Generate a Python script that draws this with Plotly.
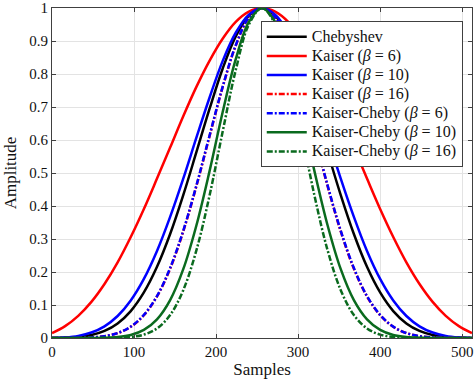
import plotly.graph_objects as go

samples = [0, 16, 32, 48, 64, 80, 96, 112, 128, 144, 160, 176, 192, 208, 224, 240, 256,
           272, 288, 304, 320, 336, 352, 368, 384, 400, 416, 432, 448, 464, 480, 496, 512]

chebyshev = [0.0001, 0.0007, 0.003, 0.0089, 0.0213, 0.0441, 0.0816, 0.138, 0.2156, 0.315, 0.433, 0.563, 0.694, 0.816, 0.914, 0.977, 1.0,
             0.977, 0.914, 0.816, 0.694, 0.563, 0.433, 0.315, 0.2156, 0.138, 0.0816, 0.0441, 0.0213, 0.0089, 0.003, 0.0007, 0.0001]
kaiser_6 = [0.0149, 0.0361, 0.0672, 0.1095, 0.1636, 0.2292, 0.306, 0.391, 0.483, 0.577, 0.672, 0.761, 0.840, 0.907, 0.958, 0.989, 1.0,
            0.989, 0.958, 0.907, 0.840, 0.761, 0.672, 0.577, 0.483, 0.391, 0.306, 0.2292, 0.1636, 0.1095, 0.0672, 0.0361, 0.0149]
kaiser_10 = [0.0002, 0.0019, 0.0065, 0.0166, 0.0354, 0.0666, 0.1137, 0.179, 0.2637, 0.367, 0.483, 0.607, 0.728, 0.839, 0.925, 0.980, 1.0,
             0.980, 0.925, 0.839, 0.728, 0.607, 0.483, 0.367, 0.2637, 0.179, 0.1137, 0.0666, 0.0354, 0.0166, 0.0065, 0.0019, 0.0002]
kaiser_16 = [0.0, 0.0, 0.0003, 0.0017, 0.0055, 0.0147, 0.0339, 0.069, 0.126, 0.210, 0.323, 0.460, 0.611, 0.760, 0.886, 0.970, 1.0,
             0.970, 0.886, 0.760, 0.611, 0.460, 0.323, 0.210, 0.126, 0.069, 0.0339, 0.0147, 0.0055, 0.0017, 0.0003, 0.0, 0.0]
kcheby_6 = [0.0, 0.0, 0.0004, 0.0018, 0.0057, 0.0150, 0.0345, 0.070, 0.127, 0.212, 0.325, 0.462, 0.613, 0.761, 0.887, 0.971, 1.0,
            0.971, 0.887, 0.761, 0.613, 0.462, 0.325, 0.212, 0.127, 0.070, 0.0345, 0.0150, 0.0057, 0.0018, 0.0004, 0.0, 0.0]
kcheby_10 = [0.0, 0.0, 0.0, 0.0002, 0.0007, 0.0028, 0.0091, 0.0244, 0.0564, 0.1148, 0.2085, 0.341, 0.505, 0.684, 0.845, 0.958, 1.0,
             0.958, 0.845, 0.684, 0.505, 0.341, 0.2085, 0.1148, 0.0564, 0.0244, 0.0091, 0.0028, 0.0007, 0.0002, 0.0, 0.0, 0.0]
kcheby_16 = [0.0, 0.0, 0.0, 0.0, 0.0001, 0.0008, 0.003, 0.0103, 0.0289, 0.0694, 0.145, 0.2655, 0.431, 0.625, 0.812, 0.950, 1.0,
             0.950, 0.812, 0.625, 0.431, 0.2655, 0.145, 0.0694, 0.0289, 0.0103, 0.003, 0.0008, 0.0001, 0.0, 0.0, 0.0, 0.0]

x_ticks = [0, 100, 200, 300, 400, 500]
y_ticks = [0, 0.1, 0.2, 0.3, 0.4, 0.5, 0.6, 0.7, 0.8, 0.9, 1]

GREEN = "#0a6a1e"
DD = "6px,2px,2px,2px"
series = [
    ("Chebyshev", chebyshev, "#000000", "solid"),
    ("Kaiser (<i>β</i> = 6)", kaiser_6, "#ff0000", "solid"),
    ("Kaiser (<i>β</i> = 10)", kaiser_10, "#0000ff", "solid"),
    ("Kaiser (<i>β</i> = 16)", kaiser_16, "#ff0000", DD),
    ("Kaiser-Cheby (<i>β</i> = 6)", kcheby_6, "#0000ff", DD),
    ("Kaiser-Cheby (<i>β</i> = 10)", kcheby_10, GREEN, "solid"),
    ("Kaiser-Cheby (<i>β</i> = 16)", kcheby_16, GREEN, DD),
]

fig = go.Figure()
for name, vals, color, dash in series:
    fig.add_trace(go.Scatter(x=samples, y=vals, mode="lines",
                             name='<span style="font-size:16px">' + name + "</span>",
                             line=dict(color=color, width=2.5, dash=dash, shape="spline")))

FONT = "Liberation Serif"
axis_common = dict(showgrid=True, gridcolor="#e3e3e3", gridwidth=1,
                   showline=True, linecolor="#404040", linewidth=1, mirror="ticks",
                   ticks="inside", ticklen=4, tickcolor="#404040", zeroline=False,
                   automargin=False,
                   tickfont=dict(family=FONT, size=15, color="#111"))

fig.update_layout(
    width=474, height=384,
    margin=dict(l=52, r=2, t=8, b=46),
    paper_bgcolor="white", plot_bgcolor="white",
    font=dict(family=FONT, color="#111"),
    xaxis=dict(range=[0, 512], tickvals=x_ticks, title=dict(text="Samples", font=dict(family=FONT, size=17), standoff=3), **axis_common),
    yaxis=dict(range=[0, 1], tickvals=y_ticks, title=dict(text="Amplitude", font=dict(family=FONT, size=17), standoff=8), **axis_common),
    legend=dict(x=0.978, y=0.96, xanchor="right", yanchor="top",
                bgcolor="white", bordercolor="#404040", borderwidth=1, itemwidth=40,
                font=dict(family=FONT, size=12.4, color="#111"), tracegroupgap=0),
    showlegend=True,
)

fig.write_html("out.html", config={"displayModeBar": False},
               post_script="document.body.style.margin='0';document.body.style.overflow='hidden';")
